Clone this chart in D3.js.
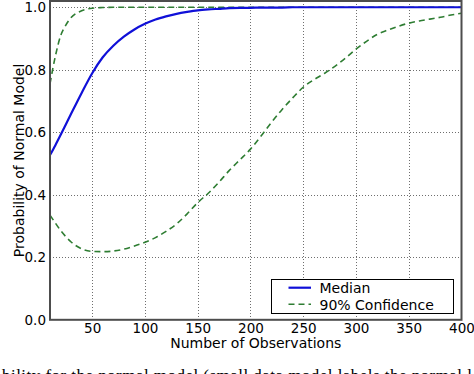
<!DOCTYPE html>
<html>
<head>
<meta charset="utf-8">
<script src="https://cdn.jsdelivr.net/npm/d3@7"></script>
<style>
  html, body { margin: 0; padding: 0; background: #fff; }
  svg { display: block; }
</style>
</head>
<body>
<svg id="chart" width="474" height="374"></svg>
<script>
// ---- data ----
const observations = [10,15,20,25,30,40,50,60,70,80,90,100,110,120,130,140,150,160,170,180,190,200,210,220,230,240,250,260,270,280,290,300,310,320,330,340,350,360,370,380,390,400];
const median = [0.527,0.558,0.591,0.625,0.659,0.726,0.789,0.840,0.877,0.906,0.929,0.947,0.961,0.971,0.979,0.985,0.990,0.993,0.995,0.997,0.998,0.998,0.999,0.999,0.999,1.0,1.0,1.0,1.0,1.0,1.0,1.0,1.0,1.0,1.0,1.0,1.0,1.0,1.0,1.0,1.0,1.0];
const upper90 = [0.755,0.842,0.908,0.943,0.967,0.989,0.997,0.999,1.0,1.0,1.0,1.0,1.0,1.0,1.0,1.0,1.0,1.0,1.0,1.0,1.0,1.0,1.0,1.0,1.0,1.0,1.0,1.0,1.0,1.0,1.0,1.0,1.0,1.0,1.0,1.0,1.0,1.0,1.0,1.0,1.0,1.0];
const lower90 = [0.335,0.310,0.286,0.266,0.249,0.227,0.219,0.218,0.220,0.226,0.236,0.248,0.263,0.283,0.307,0.339,0.375,0.405,0.440,0.478,0.512,0.546,0.588,0.632,0.673,0.710,0.744,0.768,0.788,0.811,0.837,0.866,0.891,0.913,0.927,0.939,0.949,0.956,0.962,0.968,0.975,0.981];
const xTicks = [50,100,150,200,250,300,350,400];
const yTicks = [0.0,0.2,0.4,0.6,0.8,1.0];
const seriesNames = ["Median","90% Confidence"];
const xLabel = "Number of Observations";
const yLabel = "Probability of Normal Model";
const caption = "bility for the normal model (small data model labels the normal l";

// ---- layout ----
const svg = d3.select("#chart");
const mLeft = 50, mRight = 461.5, mTop = 1, mBottom = 319.8;
const x = d3.scaleLinear().domain([10,400]).range([mLeft,mRight]);
const y = d3.scaleLinear().domain([0,1.02]).range([mBottom,mTop]);
const font = "DejaVu Sans, Verdana, sans-serif";

// grid
const grid = svg.append("g").attr("stroke","#6e6e6e").attr("stroke-width",1).attr("stroke-dasharray","1,2");
grid.selectAll("line.gx").data(xTicks.filter(d => d < 400)).join("line").attr("class","gx")
  .attr("x1", d => Math.round(x(d))+0.5).attr("x2", d => Math.round(x(d))+0.5)
  .attr("y1", mTop).attr("y2", mBottom);
grid.selectAll("line.gy").data(yTicks.filter(d => d > 0)).join("line").attr("class","gy")
  .attr("y1", d => Math.round(y(d))+0.5).attr("y2", d => Math.round(y(d))+0.5)
  .attr("x1", mLeft).attr("x2", mRight);

// lines
const pts = s => observations.map((o,i) => [o, s[i]]);
const line = d3.line().x(d => x(d[0])).y(d => y(d[1])).curve(d3.curveMonotoneX);
const green = "#2e7d32";
svg.append("path").attr("d", line(pts(lower90))).attr("fill","none")
  .attr("stroke",green).attr("stroke-width",1.6).attr("stroke-dasharray","6,4");
svg.append("path").attr("d", line(pts(upper90))).attr("fill","none")
  .attr("stroke",green).attr("stroke-width",1.6).attr("stroke-dasharray","6,4");
svg.append("path").attr("d", line(pts(median))).attr("fill","none")
  .attr("stroke","#1010d8").attr("stroke-width",2.2);

// frame
svg.append("rect").attr("x",mLeft).attr("y",mTop).attr("width",mRight-mLeft).attr("height",mBottom-mTop)
  .attr("fill","none").attr("stroke","#4d4d4d").attr("stroke-width",2);

// axes via d3
const xAxis = d3.axisBottom(x).tickValues(xTicks).tickSize(0).tickPadding(4).tickFormat(d3.format("d"));
const gx = svg.append("g").attr("transform",`translate(0,${mBottom})`).call(xAxis);
gx.select(".domain").remove();
gx.selectAll("text").attr("font-family",font).attr("font-size",13.5).attr("fill","#000");

const yAxis = d3.axisLeft(y).tickValues(yTicks).tickSize(0).tickPadding(4).tickFormat(d3.format(".1f"));
const gy = svg.append("g").attr("transform",`translate(${mLeft},0)`).call(yAxis);
gy.select(".domain").remove();
gy.selectAll("text").attr("font-family",font).attr("font-size",13.5).attr("fill","#000");

// axis labels
svg.append("text").attr("x",(mLeft+mRight)/2).attr("y",348).attr("text-anchor","middle")
  .attr("font-family",font).attr("font-size",14).text(xLabel);
svg.append("text").attr("transform",`translate(23.5,${(mTop+mBottom)/2}) rotate(-90)`).attr("text-anchor","middle")
  .attr("font-family",font).attr("font-size",14).text(yLabel);

// legend
const lg = svg.append("g");
lg.append("rect").attr("x",271.5).attr("y",279.5).attr("width",182).attr("height",34)
  .attr("fill","#fff").attr("stroke","#000").attr("stroke-width",1);
lg.append("line").attr("x1",288.5).attr("x2",311).attr("y1",287.7).attr("y2",287.7)
  .attr("stroke","#1010d8").attr("stroke-width",2.2);
lg.append("line").attr("x1",288.5).attr("x2",311).attr("y1",304.3).attr("y2",304.3)
  .attr("stroke",green).attr("stroke-width",1.6).attr("stroke-dasharray","6,4");
lg.selectAll("text.leg").data(seriesNames).join("text").attr("class","leg")
  .attr("x",319.5).attr("y",(d,i) => 293.3 + i*16.6)
  .attr("font-family",font).attr("font-size",14).text(d => d);

// caption (cut off at bottom of image, as in the source)
svg.append("text").attr("x",2).attr("y",381).attr("font-family","Liberation Serif, Times New Roman, serif")
  .attr("font-size",17).attr("textLength",470).attr("lengthAdjust","spacing").text(caption);
</script>
</body>
</html>
